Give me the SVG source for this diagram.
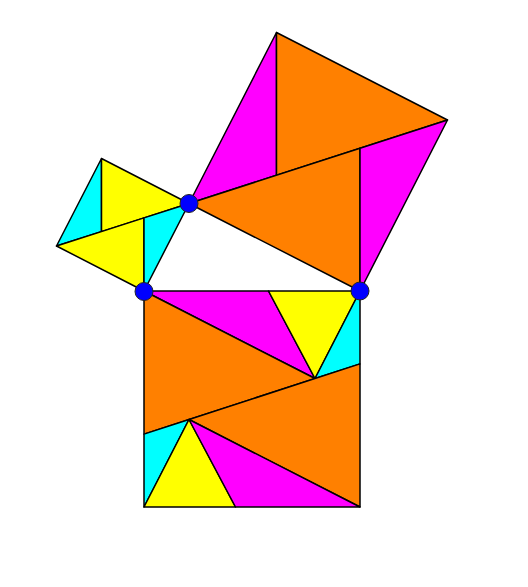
<svg xmlns="http://www.w3.org/2000/svg" width="528" height="587" viewBox="0 0 528 587">
<style>
polygon{stroke:#000;stroke-width:1.5;stroke-linejoin:round}
.o{fill:#ff8000}.m{fill:#ff00ff}.y{fill:#ffff00}.c{fill:#00ffff}
.dot{fill:#0000ff;stroke:#222;stroke-width:1}
</style>
<rect width="528" height="587" fill="#fff"/>
<g id="left-square">
<polygon class="c" points="101.5,158.5 56.5,246 101.5,231.6"/>
<polygon class="y" points="101.5,158.5 101.5,231.6 189,203.5"/>
<polygon class="y" points="56.5,246 144,291 144,217.9"/>
<polygon class="c" points="144,217.9 144,291 189,203.5"/>
</g>
<g id="top-square">
<polygon class="m" points="189,203.5 276.5,32.5 276.5,175.2"/>
<polygon class="o" points="276.5,32.5 447.5,120 276.5,175.2"/>
<polygon class="o" points="189,203.5 360,148.3 360,291"/>
<polygon class="m" points="360,148.3 447.5,120 360,291"/>
</g>
<g id="bottom-square">
<polygon class="m" points="144,291 268.5,291 315,378.5"/>
<polygon class="y" points="268.5,291 360,291 315,378.5"/>
<polygon class="c" points="360,291 360,363.9 315,378.5"/>
<polygon class="o" points="144,291 315,378.5 144,434.1"/>
<polygon class="o" points="189,419.5 360,363.9 360,507"/>
<polygon class="c" points="144,434.1 189,419.5 144,507"/>
<polygon class="y" points="144,507 189,419.5 235.5,507"/>
<polygon class="m" points="189,419.5 235.5,507 360,507"/>
</g>
<g id="connectors"></g>
<g id="points">
<circle id="A" class="dot" cx="144" cy="291.5" r="9"/>
<circle id="B" class="dot" cx="360" cy="291" r="9"/>
<circle id="C" class="dot" cx="189" cy="203.5" r="9"/>
</g>
</svg>
